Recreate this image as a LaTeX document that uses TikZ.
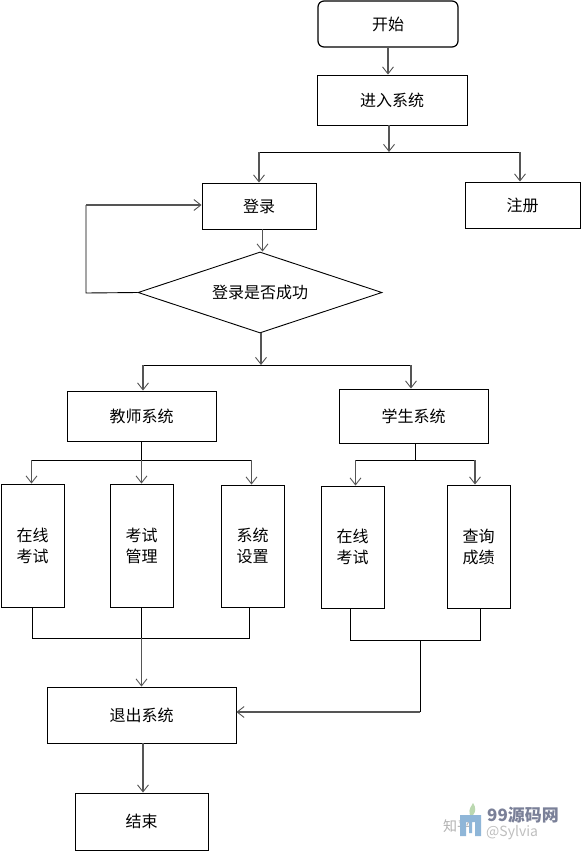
\documentclass[tikz,border=0pt]{standalone}
\usepackage{fontspec}
\setmainfont{Noto Sans CJK SC}
\usetikzlibrary{arrows.meta,shapes.geometric}
\definecolor{stemgray}{HTML}{555555}
\definecolor{markblue}{HTML}{8FB6D8}
\definecolor{markgreen}{HTML}{BBD8B0}
\definecolor{markdark}{HTML}{7A8098}
\tikzset{
  x=1pt,y=-1pt,
  box/.style={draw=black,line width=0.9pt,fill=white,rectangle,inner sep=0pt,font=\fontsize{16}{21}\selectfont,align=center},
  line/.style={draw=black,line width=0.9pt},
  stem/.style={draw=stemgray,line width=1.5pt},
  arr/.style={stem,-{Straight Barb[length=7pt,width=11pt,line width=0.9pt]}},
}
\newcommand{\boxat}[7][]{\node[box,#1,minimum width=#4pt-#3pt,minimum height=#6pt-#5pt] (#2) at ({(#3+#4)/2},{(#5+#6)/2}) {#7};}
\begin{document}
\begin{tikzpicture}
\useasboundingbox (0,0) rectangle (581,852);
\fill[white] (0,0) rectangle (581,852);
% nodes
\boxat[rounded corners=6pt,line width=1.2pt]{start}{318}{458}{1}{47}{开始}
\boxat{enter}{317}{467}{75}{125}{进入系统}
\boxat{login}{202}{316}{183}{229}{登录}
\boxat{reg}{465}{580}{182}{228}{注册}
\node[box,diamond,aspect=3,minimum width=244pt,minimum height=81pt] (ok) at (260,292.5) {登录是否成功};
\boxat{teacher}{67}{216}{391}{441}{教师系统}
\boxat{student}{339}{488}{389}{443}{学生系统}
\boxat{t1}{1}{64}{484}{607}{在线\\考试}
\boxat{t2}{110}{173}{484}{607}{考试\\管理}
\boxat{t3}{221}{284}{485}{607}{系统\\设置}
\boxat{s1}{321}{384}{486}{608}{在线\\考试}
\boxat{s2}{447}{510}{485}{608}{查询\\成绩}
\boxat{quit}{47}{236}{687}{743}{退出系统}
\boxat{stop}{75}{208}{793}{850}{结束}
% named junctions
\coordinate (g0) at (388,0);
\coordinate (b1) at (389,152);
\coordinate (b1l) at (259,152);
\coordinate (b1r) at (520,152);
\coordinate (g1) at (262.5,0);
\coordinate (back1) at (86,293);
\coordinate (back2) at (86,205);
\coordinate (b2) at (261,365);
\coordinate (b2l) at (143,365);
\coordinate (b2r) at (411,365);
\coordinate (b3) at (141.5,460);
\coordinate (b3l) at (31.5,460);
\coordinate (b3r) at (251.5,460);
\coordinate (b4) at (415.5,460);
\coordinate (b4l) at (355.5,460);
\coordinate (b4r) at (475,460);
\coordinate (b5) at (141.5,638);
\coordinate (b5l) at (32.5,638);
\coordinate (b5r) at (249,638);
\coordinate (b6) at (420,640.5);
\coordinate (b6l) at (350,640.5);
\coordinate (b6r) at (480,640.5);
\coordinate (b6d) at (420,712);
\coordinate (g7) at (143,0);
% connectors
\draw[arr] (start.south -| g0) -- (enter.north -| g0);
\draw[arr] (enter.south -| b1) -- (b1);
\draw[line] (b1l) -- (b1r);
\draw[arr] (b1l) -- (login.north -| b1l);
\draw[arr] (b1r) -- (reg.north -| b1r);
\draw[arr] (login.south -| g1) -- (ok.north -| g1);
\draw[line] (ok.west) -- (back1) -- (back2);
\draw[arr] (back2) -- (login.west |- back2);
\draw[arr] (ok.south -| b2) -- (b2);
\draw[line] (b2l) -- (b2r);
\draw[arr] (b2l) -- (teacher.north -| b2l);
\draw[arr] (b2r) -- (student.north -| b2r);
\draw[line] (teacher.south -| b3) -- (b3);
\draw[line] (b3l) -- (b3r);
\draw[arr] (b3l) -- (t1.north -| b3l);
\draw[arr] (b3) -- (t2.north -| b3);
\draw[arr] (b3r) -- (t3.north -| b3r);
\draw[line] (student.south -| b4) -- (b4);
\draw[line] (b4l) -- (b4r);
\draw[arr] (b4l) -- (s1.north -| b4l);
\draw[arr] (b4r) -- (s2.north -| b4r);
\draw[line] (t1.south -| b5l) -- (b5l) -- (b5r) -- (t3.south -| b5r);
\draw[line] (t2.south -| b5) -- (b5);
\draw[arr] (b5) -- (quit.north -| b5);
\draw[line] (s1.south -| b6l) -- (b6l) -- (b6r) -- (s2.south -| b6r);
\draw[line] (b6) -- (b6d);
\draw[arr] (b6d) -- (quit.east |- b6d);
\draw[arr] (quit.south -| g7) -- (stop.north -| g7);
% watermark
\node[inner sep=0pt,text=black!30,font=\fontsize{14}{14}\selectfont,anchor=west] (zh) at (443,826) {知乎};
\fill[markgreen] (470,815) .. controls (468,808) and (472,806) .. (473,803) .. controls (476,807) and (476,812) .. (473,815) -- cycle;
\fill[markblue] (460,815) -- (481,815) -- (481,836) -- (475,836) -- (475,822) -- (472,822) -- (472,833) -- (469,833) -- (469,822) -- (466,822) -- (466,836) -- (460,836) -- cycle;
\node[inner sep=0pt,text=black!25,font=\fontsize{14}{14}\selectfont,anchor=west] (sy) at (486,833) {@Sylvia};
\node[inner sep=0pt,text=markdark,font=\bfseries\fontsize{17}{18}\selectfont,anchor=west] (qq) at (487,815) {99源码网};
\end{tikzpicture}
\end{document}
